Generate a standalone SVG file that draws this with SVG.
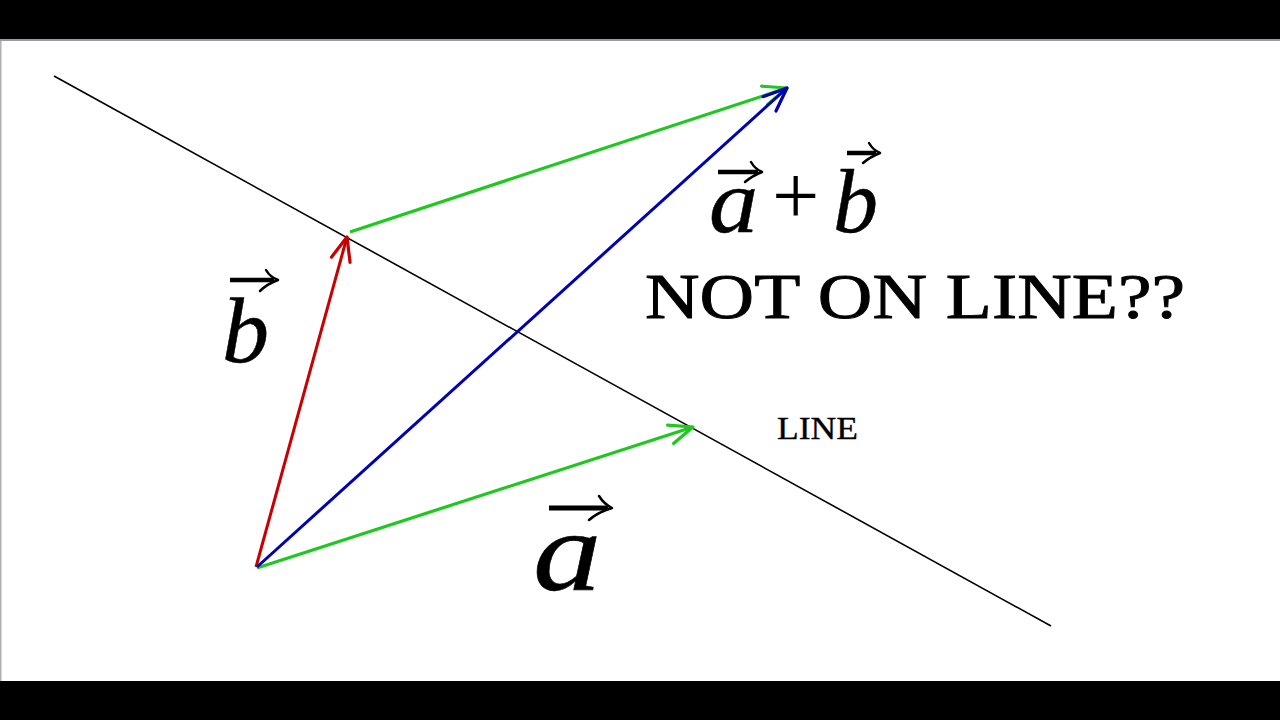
<svg xmlns="http://www.w3.org/2000/svg" width="1280" height="720" viewBox="0 0 1280 720">
<defs>
<style>
.serif{font-family:"Liberation Serif","DejaVu Serif",serif;fill:#000}
.math{font-family:"Liberation Serif","DejaVu Serif",serif;font-style:italic;fill:#000}
.vec{stroke:#000;fill:none;stroke-linecap:butt}
.head{stroke:#000;fill:none;stroke-width:2.5;stroke-linecap:round;stroke-linejoin:round}
</style>
<marker id="hg" markerUnits="userSpaceOnUse" markerWidth="30" markerHeight="30" viewBox="-24 -12 28 24" refX="0" refY="0" orient="auto">
<path d="M -22 -9 L 0 0 L -22 9" fill="none" stroke="#1ec81e" stroke-width="3" stroke-linecap="round" stroke-linejoin="round"/>
</marker>
<marker id="hr" markerUnits="userSpaceOnUse" markerWidth="30" markerHeight="30" viewBox="-24 -12 28 24" refX="0" refY="0" orient="auto">
<path d="M -22 -9 L 0 0 L -22 9" fill="none" stroke="#c80000" stroke-width="3" stroke-linecap="round" stroke-linejoin="round"/>
</marker>
<marker id="hb" markerUnits="userSpaceOnUse" markerWidth="30" markerHeight="30" viewBox="-24 -12 28 24" refX="0" refY="0" orient="auto">
<path d="M -22 -9 L 0 0 L -22 9" fill="none" stroke="#0000b4" stroke-width="3" stroke-linecap="round" stroke-linejoin="round"/>
</marker>
</defs>
<rect x="0" y="0" width="1280" height="720" fill="#fff"/>
<rect x="0" y="0" width="1280" height="39" fill="#000"/>
<rect x="0" y="39" width="1280" height="2" fill="#9a9aa0"/>
<rect x="0" y="41" width="1.5" height="640" fill="#b0b0b0"/>
<rect x="0" y="681" width="1280" height="39" fill="#000"/>

<g id="line">
<line x1="54" y1="76" x2="1051" y2="626" stroke="#000" stroke-width="1.6"/>
</g>

<g id="connectors">
<line x1="256" y1="567" x2="347" y2="237" stroke="#c80000" stroke-width="3" marker-end="url(#hr)"/>
<line x1="257" y1="568" x2="693" y2="427" stroke="#1ec81e" stroke-width="3.2" marker-end="url(#hg)"/>
<line x1="350" y1="232" x2="787" y2="88" stroke="#1ec81e" stroke-width="3.2" marker-end="url(#hg)"/>
<line x1="257" y1="567" x2="787" y2="88" stroke="#0000b4" stroke-width="3" marker-end="url(#hb)"/>
</g>

<g id="label-a">
<text class="math" transform="translate(533,590) scale(1.2,1)" x="0" y="0" font-size="114" stroke="#000" stroke-width="0.6">a</text>
<line class="vec" x1="549" y1="508" x2="608" y2="508" stroke-width="5"/>
<path class="head" d="M 599 496 Q 604 504 612 508 Q 598 512 589 520"/>
</g>

<g id="label-b">
<text class="math" x="222" y="362" font-size="94" stroke="#000" stroke-width="0.5">b</text>
<line class="vec" x1="230" y1="280" x2="274" y2="280" stroke-width="4.5"/>
<path class="head" d="M 266 270 Q 270 277 278 280 Q 267 284 260 291"/>
</g>

<g id="label-sum">
<text class="math" transform="translate(709,232) scale(1.08,1)" x="0" y="0" font-size="91" stroke="#000" stroke-width="0.5">a</text>
<line class="vec" x1="718" y1="172" x2="758" y2="172" stroke-width="4.5"/>
<path class="head" d="M 751 162 Q 755 169 762 172 Q 752 176 745 182"/>
<text class="serif" x="772" y="224" font-size="84">+</text>
<text class="math" x="833" y="232" font-size="90" stroke="#000" stroke-width="0.5">b</text>
<line class="vec" x1="847" y1="153" x2="876" y2="153" stroke-width="4.5"/>
<path class="head" d="M 869 143 Q 873 150 880 153 Q 870 157 863 163"/>
</g>

<g id="label-notonline">
<text class="serif" x="645" y="318" font-size="63" textLength="540" lengthAdjust="spacingAndGlyphs" stroke="#000" stroke-width="0.9">NOT ON LINE??</text>
</g>

<g id="label-line">
<text class="serif" x="777" y="439" font-size="31" textLength="81" lengthAdjust="spacingAndGlyphs" stroke="#000" stroke-width="0.3">LINE</text>
</g>
</svg>
